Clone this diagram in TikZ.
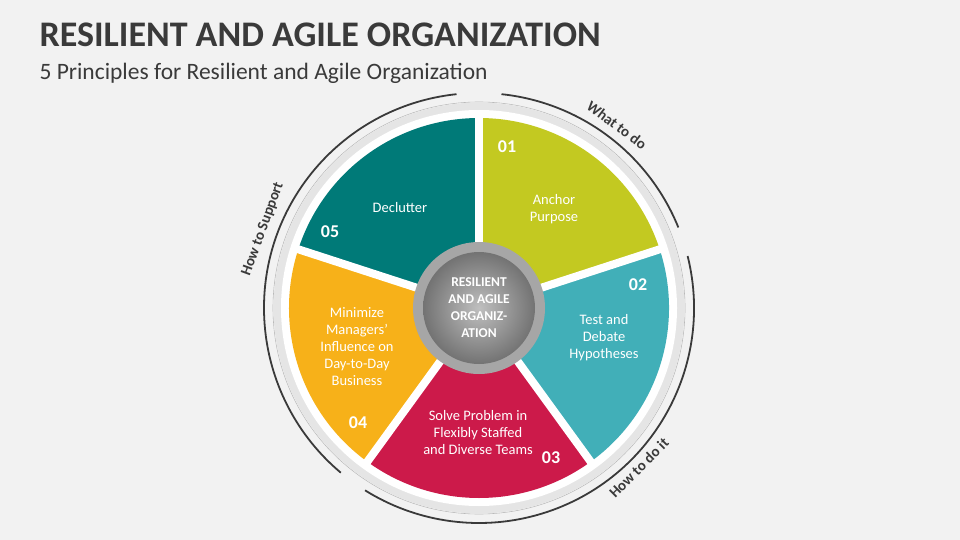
\documentclass[tikz,border=0pt]{standalone}
\usepackage{fontspec}
\setmainfont{Carlito}
\usetikzlibrary{calc}
\definecolor{bg}{HTML}{F2F2F2}
\definecolor{cA}{HTML}{C3C921}
\definecolor{cB}{HTML}{41AFB8}
\definecolor{cC}{HTML}{CC1A4A}
\definecolor{cD}{HTML}{F7B119}
\definecolor{cE}{HTML}{007A78}
\definecolor{dk}{HTML}{3A3A3A}
\tikzset{
 lbl/.style={text=white,font=\fontsize{14.5}{17}\selectfont,align=center},
 num/.style={text=white,font=\bfseries\fontsize{18}{20}\selectfont},
 arcl/.style={text=dk,font=\bfseries\fontsize{15}{16}\selectfont,inner sep=0pt},
 darc/.style={draw=dk,line width=1.8pt},
}
\begin{document}
\begin{tikzpicture}[x=1pt,y=1pt]
\useasboundingbox (0,0) rectangle (960,-540);
\fill[bg] (0,0) rectangle (960,-540);
\node[anchor=west,text=dk,font=\bfseries\fontsize{36}{40}\selectfont] (title) at (36,-35) {RESILIENT AND AGILE ORGANIZATION};
\node[anchor=west,text=dk,font=\fontsize{23.5}{26}\selectfont] (sub) at (36,-73) {5 Principles for Resilient and Agile Organization};
\coordinate (C) at (479,-308);
% ring
\fill[white] (C) circle (206);
\draw[gray!55,line width=0.6pt] (C) circle (206);
\fill[black!10] (C) circle (205.5);
\fill[white] (C) circle (198);
% sectors
\foreach \a/\col in {18/cA,-54/cB,-126/cC,162/cD,90/cE}{
 \fill[\col] (C) -- ($(C)+(\a:190)$) arc[start angle=\a,delta angle=72,radius=190] -- cycle;
}
\foreach \a in {18,-54,-126,162,90}{
 \draw[white,line width=8pt] (C) -- ($(C)+(\a:195)$);
}
% centre
\fill[black!35] (C) circle (66);
\shade[inner color=black!25,outer color=black!55] (C) circle (56);
\node[text=white,font=\bfseries\fontsize{13.5}{17}\selectfont,align=center] (ctr) at (C) {RESILIENT\\AND AGILE\\ORGANIZ-\\ATION};
% outer arcs
\draw[darc] ($(C)+(84:215)$) arc[start angle=84,end angle=22,radius=215];
\draw[darc] ($(C)+(14:215)$) arc[start angle=14,end angle=-122,radius=215];
\draw[darc] ($(C)+(96:215)$) arc[start angle=96,end angle=230,radius=215];
\node[arcl,rotate=-37] (w) at ($(C)+(53:229)$) {What to do};
\node[arcl,rotate=45] (h) at ($(C)+(-45:226)$) {How to do it};
\node[arcl,rotate=70] (s) at ($(C)+(160:230)$) {How to Support};
% labels
\node[num] (n1) at (507,-147) {01};
\node[lbl] (t1) at (554,-209) {Anchor\\Purpose};
\node[num] (n2) at (638,-285) {02};
\node[lbl] (t2) at (604,-338) {Test and\\Debate\\Hypotheses};
\node[num] (n3) at (551,-458) {03};
\node[lbl] (t3) at (478,-433) {Solve Problem in\\Flexibly Staffed\\and Diverse Teams};
\node[num] (n4) at (358,-423) {04};
\node[lbl] (t4) at (357,-347) {Minimize\\Managers'\\Influence on\\Day-to-Day\\Business};
\node[num] (n5) at (330,-232) {05};
\node[lbl] (t5) at (400,-208) {Declutter};
\end{tikzpicture}
\end{document}
